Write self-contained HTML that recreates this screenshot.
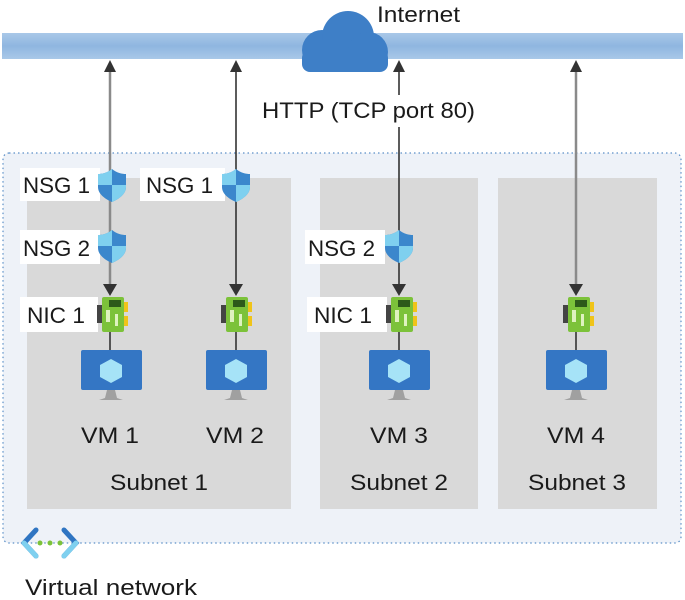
<!DOCTYPE html>
<html><head><style>
body{margin:0;background:#fff;}
svg{display:block;}
text{font-family:"Liberation Sans",sans-serif;fill:#1a1a1a;}
</style></head><body>
<svg width="685" height="600" viewBox="0 0 685 600" xmlns="http://www.w3.org/2000/svg">
<defs>
<linearGradient id="band" x1="0" y1="0" x2="0" y2="1"><stop offset="0" stop-color="#a9c8e8"/><stop offset="0.5" stop-color="#8fb6e0"/><stop offset="1" stop-color="#a9c8e8"/></linearGradient>
<g id="shield"><path d="M0,-16 C5,-12 10,-11 14,-11 L14,2 C14,9 7,14 0,17 C-7,14 -14,9 -14,2 L-14,-11 C-10,-11 -5,-12 0,-16Z" fill="#3b87cc"/><path d="M0,-16 L0,0 L-14,0 L-14,-11 C-10,-11 -5,-12 0,-16Z" fill="#7fd0ef"/><path d="M0,0 L14,0 L14,2 C14,9 7,14 0,17Z" fill="#7fd0ef"/></g>
<g id="nic"><rect x="-15" y="-9" width="5" height="18" fill="#444"/><rect x="-10" y="-17" width="22" height="35" rx="2" fill="#7cc23a"/><rect x="12" y="-12" width="4" height="10" fill="#f0c419"/><rect x="12" y="2" width="4" height="10" fill="#f0c419"/><rect x="-3" y="-14" width="12" height="7" fill="#2d5a1a"/><rect x="-6" y="-4" width="4" height="12" fill="#dff2c0"/><rect x="3" y="0" width="3" height="12" fill="#dff2c0"/></g>
<g id="vm"><rect x="-30" y="0" width="61" height="40" rx="2" fill="#3476c4"/><polygon points="0,9 11,15 11,27 0,33 -11,27 -11,15" fill="#a6e3f7"/><path d="M-4,40 L4,40 L6,48 L12,50 L-12,50 L-6,48Z" fill="#a0a0a0"/></g>
</defs>
<rect x="3" y="153" width="678" height="390" rx="6" fill="#eef2f8" stroke="#5b8fc7" stroke-width="1.2" stroke-dasharray="1.5,3"/>
<rect x="27" y="178" width="264" height="331" fill="#d9d9d9"/>
<rect x="320" y="178" width="158" height="331" fill="#d9d9d9"/>
<rect x="498" y="178" width="159" height="331" fill="#d9d9d9"/>
<rect x="2" y="33" width="681" height="26" fill="url(#band)"/>
<g fill="#3e7fc7"><circle cx="322" cy="50" r="20"/><circle cx="348" cy="37" r="26"/><circle cx="368" cy="52" r="20"/><rect x="302" y="50" width="86" height="22" rx="8"/></g>
<text x="377" y="22" font-size="22" textLength="83" lengthAdjust="spacingAndGlyphs">Internet</text>
<text x="262" y="118" font-size="22" textLength="213" lengthAdjust="spacingAndGlyphs">HTTP (TCP port 80)</text>
<g stroke-width="2.5" stroke="#8a8a8a"><line x1="110" y1="70" x2="110" y2="290"/><line x1="576" y1="70" x2="576" y2="290"/></g>
<g stroke-width="1.6" stroke="#333"><line x1="236" y1="70" x2="236" y2="290"/><line x1="399" y1="70" x2="399" y2="95"/><line x1="399" y1="127" x2="399" y2="290"/></g>
<g stroke="#555" stroke-width="2"><line x1="110" y1="330" x2="110" y2="352"/><line x1="236" y1="330" x2="236" y2="352"/><line x1="399" y1="330" x2="399" y2="352"/><line x1="576" y1="330" x2="576" y2="352"/></g>
<g fill="#333">
<polygon points="110,60 104,72 116,72"/><polygon points="236,60 230,72 242,72"/><polygon points="399,60 393,72 405,72"/><polygon points="576,60 570,72 582,72"/>
<polygon points="110,296 103,284 117,284"/><polygon points="236,296 229,284 243,284"/><polygon points="399,296 392,284 406,284"/><polygon points="576,296 569,284 583,284"/>
</g>
<rect x="20" y="168" width="80" height="33" fill="#fff"/>
<rect x="140" y="168" width="85" height="33" fill="#fff"/>
<rect x="20" y="230" width="80" height="34" fill="#fff"/>
<rect x="305" y="230" width="80" height="34" fill="#fff"/>
<rect x="20" y="297" width="78" height="35" fill="#fff"/>
<rect x="307" y="297" width="80" height="35" fill="#fff"/>
<g font-size="22">
<text x="23" y="193" textLength="67" lengthAdjust="spacingAndGlyphs">NSG 1</text><text x="146" y="193" textLength="67" lengthAdjust="spacingAndGlyphs">NSG 1</text>
<text x="23" y="256" textLength="67" lengthAdjust="spacingAndGlyphs">NSG 2</text><text x="308" y="256" textLength="67" lengthAdjust="spacingAndGlyphs">NSG 2</text>
<text x="27" y="323" textLength="58" lengthAdjust="spacingAndGlyphs">NIC 1</text><text x="314" y="323" textLength="58" lengthAdjust="spacingAndGlyphs">NIC 1</text>
</g>
<use href="#shield" x="112" y="185"/><use href="#shield" x="236" y="185"/>
<use href="#shield" x="112" y="246"/><use href="#shield" x="399" y="246"/>
<use href="#nic" x="112" y="314"/><use href="#nic" x="236" y="314"/><use href="#nic" x="401" y="314"/><use href="#nic" x="578" y="314"/>
<use href="#vm" x="111" y="350"/><use href="#vm" x="236" y="350"/><use href="#vm" x="399" y="350"/><use href="#vm" x="576" y="350"/>
<g font-size="22">
<text x="81" y="443" textLength="58" lengthAdjust="spacingAndGlyphs">VM 1</text><text x="206" y="443" textLength="58" lengthAdjust="spacingAndGlyphs">VM 2</text><text x="370" y="443" textLength="58" lengthAdjust="spacingAndGlyphs">VM 3</text><text x="547" y="443" textLength="58" lengthAdjust="spacingAndGlyphs">VM 4</text>
<text x="110" y="490" textLength="98" lengthAdjust="spacingAndGlyphs">Subnet 1</text><text x="350" y="490" textLength="98" lengthAdjust="spacingAndGlyphs">Subnet 2</text><text x="528" y="490" textLength="98" lengthAdjust="spacingAndGlyphs">Subnet 3</text>
</g>
<path d="M36,530 L24,543 L36,556" fill="none" stroke="#2f75c2" stroke-width="5" stroke-linecap="round"/>
<path d="M64,530 L76,543 L64,556" fill="none" stroke="#2f75c2" stroke-width="5" stroke-linecap="round"/>
<path d="M24,543 L36,556 M76,543 L64,556" stroke="#7fd0ef" stroke-width="5" stroke-linecap="round"/>
<circle cx="40" cy="543" r="2.5" fill="#7cc23a"/><circle cx="50" cy="543" r="2.5" fill="#7cc23a"/><circle cx="60" cy="543" r="2.5" fill="#7cc23a"/>
<text x="25" y="595" font-size="22" textLength="172" lengthAdjust="spacingAndGlyphs">Virtual network</text>
</svg>
</body></html>
